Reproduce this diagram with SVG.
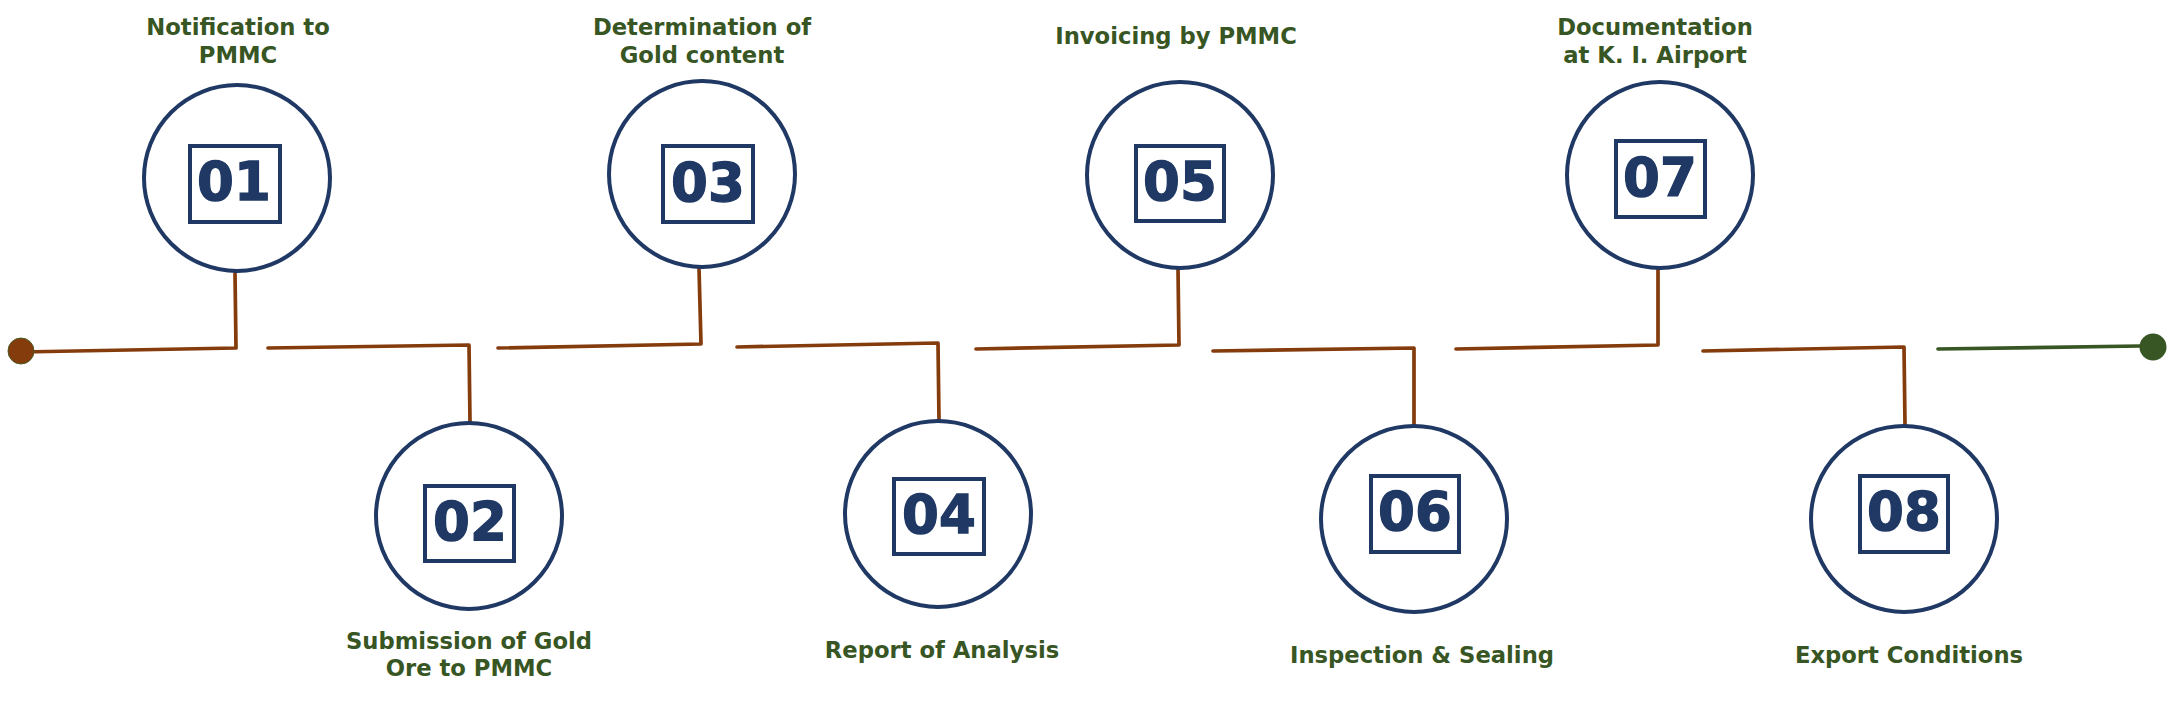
<svg xmlns="http://www.w3.org/2000/svg" width="2174" height="701" viewBox="0 0 2174 701">
<style>
.ring{fill:#fff;stroke:#1F3864;stroke-width:4}
.box{fill:none;stroke:#1F3864;stroke-width:4}
.num{font-family:"DejaVu Sans",Verdana,sans-serif;font-weight:bold;font-size:53px;fill:#1F3864;stroke:#1F3864;stroke-width:1.3;text-anchor:middle}
.lbl{font-family:"DejaVu Sans",Verdana,sans-serif;font-weight:bold;font-size:22.7px;fill:#375623;text-anchor:middle}
.con{fill:none;stroke:#843C0C;stroke-width:3.7;stroke-linecap:round;stroke-linejoin:round}
.end{fill:none;stroke:#375623;stroke-width:3.7;stroke-linecap:round}
</style>
<rect width="2174" height="701" fill="#fff"/>
<g id="connectors">
<path class="con" d="M21,352 L236,348 L235,273"/>
<path class="con" d="M268,348 L469,345 L470,422"/>
<path class="con" d="M498,348 L701,344 L699,268"/>
<path class="con" d="M737,347 L938,343 L939,420"/>
<path class="con" d="M976,349 L1179,345 L1178,269"/>
<path class="con" d="M1213,351 L1414,348 L1414,425"/>
<path class="con" d="M1456,349 L1658,345 L1658,269"/>
<path class="con" d="M1703,351 L1904,347 L1905,425"/>
<path class="end" d="M1938,349 L2140,346"/>
<circle cx="21" cy="351" r="13" fill="#843C0C" stroke="#4B5A23" stroke-width="1"/>
<circle cx="2153" cy="347" r="13.5" fill="#375623"/>
</g>
<g id="node01">
<circle class="ring" cx="237" cy="178" r="93"/>
<rect class="box" x="190" y="146" width="90" height="76"/>
<text class="num" x="234" y="200">01</text>
<text class="lbl" x="238" y="35">Notification to</text>
<text class="lbl" x="238" y="63">PMMC</text>
</g>
<g id="node02">
<circle class="ring" cx="469" cy="516" r="93"/>
<rect class="box" x="425" y="486" width="89" height="75"/>
<text class="num" x="470" y="540">02</text>
<text class="lbl" x="469" y="649">Submission of Gold</text>
<text class="lbl" x="469" y="676">Ore to PMMC</text>
</g>
<g id="node03">
<circle class="ring" cx="702" cy="174" r="93"/>
<rect class="box" x="663" y="146" width="90" height="76"/>
<text class="num" x="708" y="201">03</text>
<text class="lbl" x="702" y="35">Determination of</text>
<text class="lbl" x="702" y="63">Gold content</text>
</g>
<g id="node04">
<circle class="ring" cx="938" cy="514" r="93"/>
<rect class="box" x="894" y="479" width="90" height="75"/>
<text class="num" x="939" y="533">04</text>
<text class="lbl" x="942" y="658">Report of Analysis</text>
</g>
<g id="node05">
<circle class="ring" cx="1180" cy="175" r="93"/>
<rect class="box" x="1136" y="146" width="88" height="75"/>
<text class="num" x="1180" y="200">05</text>
<text class="lbl" x="1176" y="44">Invoicing by PMMC</text>
</g>
<g id="node06">
<circle class="ring" cx="1414" cy="519" r="93"/>
<rect class="box" x="1371" y="476" width="88" height="76"/>
<text class="num" x="1415" y="530">06</text>
<text class="lbl" x="1422" y="663">Inspection &amp; Sealing</text>
</g>
<g id="node07">
<circle class="ring" cx="1660" cy="175" r="93"/>
<rect class="box" x="1616" y="141" width="89" height="76"/>
<text class="num" x="1660" y="196">07</text>
<text class="lbl" x="1655" y="35">Documentation</text>
<text class="lbl" x="1655" y="63">at K. I. Airport</text>
</g>
<g id="node08">
<circle class="ring" cx="1904" cy="519" r="93"/>
<rect class="box" x="1860" y="476" width="88" height="76"/>
<text class="num" x="1904" y="530">08</text>
<text class="lbl" x="1909" y="663">Export Conditions</text>
</g>
</svg>
